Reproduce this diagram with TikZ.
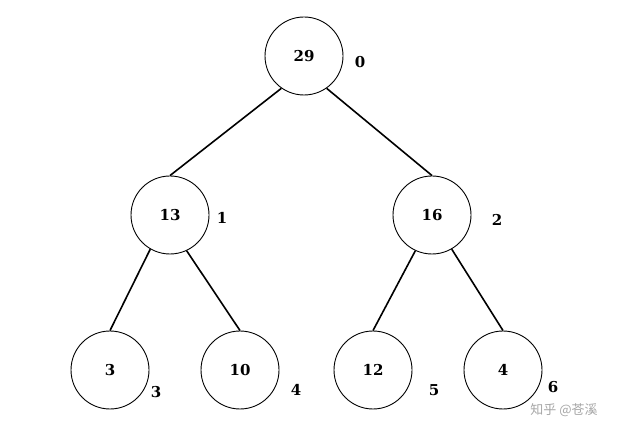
\documentclass[tikz,border=0pt]{standalone}
\usepackage{fontspec}
\setmainfont{DejaVu Serif}
\newfontfamily\cjk{Noto Sans CJK SC}
\begin{document}
\begin{tikzpicture}[x=1pt,y=-1pt,
  hn/.style={circle,draw,line width=0.9pt,minimum size=78pt,inner sep=0pt,font=\fontsize{15}{17}\selectfont\bfseries},
  idx/.style={font=\fontsize{15}{17}\selectfont\bfseries},
  edge/.style={line width=1.6pt}]
\useasboundingbox (0,0) rectangle (624,438);
\node[hn] (a) at (304,56) {29};
\node[hn] (b) at (170,215) {13};
\node[hn] (c) at (432,215) {16};
\node[hn] (d) at (110,370) {3};
\node[hn] (e) at (240,370) {10};
\node[hn] (f) at (373,370) {12};
\node[hn] (g) at (503,370) {4};
\draw[edge] (a.235) -- (b.north); \draw[edge] (a.305) -- (c.north);
\draw[edge] (b.240) -- (d.north); \draw[edge] (b.295) -- (e.north);
\draw[edge] (c.245) -- (f.north); \draw[edge] (c.300) -- (g.north);
\node[idx] (i0) at (360,62) {0};
\node[idx] (i1) at (222,218) {1};
\node[idx] (i2) at (497,220) {2};
\node[idx] (i3) at (156,392) {3};
\node[idx] (i4) at (296,390) {4};
\node[idx] (i5) at (434,390) {5};
\node[idx] (i6) at (553,387) {6};
\node[text=gray!70,font=\cjk\fontsize{13}{15}\selectfont] (wm) at (564,410) {知乎 @苍溪};
\end{tikzpicture}
\end{document}
